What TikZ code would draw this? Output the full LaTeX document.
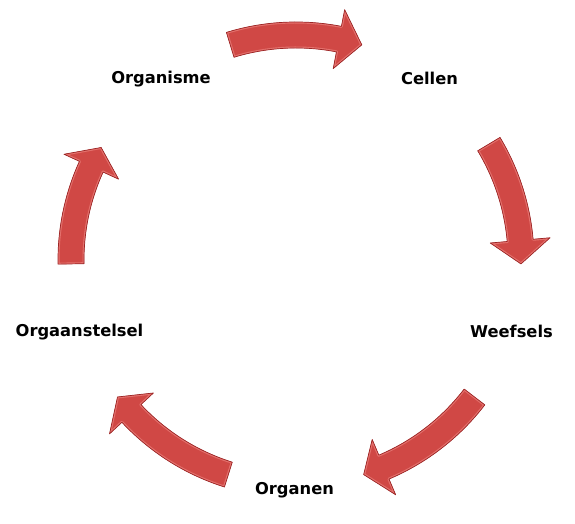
\documentclass[tikz,border=0pt]{standalone}
\usepackage{fontspec}
\setmainfont{DejaVu Sans}
\definecolor{pijlrood}{RGB}{208,72,69}
\definecolor{pijlrand}{RGB}{155,38,38}
\definecolor{pijllicht}{RGB}{228,112,108}
\tikzset{
  fase/.style={font=\bfseries\fontsize{16.3}{19}\selectfont, inner sep=0pt, anchor=base},
  pijl/.style={fill=pijlrood},
  rand/.style={draw=pijlrand, line width=0.7pt, line join=round},
  glans/.style={draw=pijllicht, line width=3pt, line join=round},
  schaduw/.style={fill=black, opacity=0.12}
}
% gebogen pijl langs de kring rond (M): staart, voet van de punt, punt
\newcommand{\kringpad}[3]{%
  ([shift={(#1:238)}]M) arc[start angle=#1, end angle=#2, radius=238]
    -- ([shift={(#2:255)}]M) -- ([shift={(#3:225)}]M) -- ([shift={(#2:195)}]M)
    -- ([shift={(#2:212)}]M) arc[start angle=#2, end angle=#1, radius=212] -- cycle}
\begin{document}
\begin{tikzpicture}[x=1pt,y=1pt]
  \useasboundingbox (0,0) rectangle (575,524);
  \coordinate (M) at (296,264);

  % fasen van de kring
  \node[fase] (organisme)     at (161,440)   {Organisme};
  \node[fase] (cellen)        at (429.5,439) {Cellen};
  \node[fase] (weefsels)      at (511.5,186) {Weefsels};
  \node[fase] (organen)       at (294.5,29)  {Organen};
  \node[fase] (orgaanstelsel) at (79.5,187)  {Orgaanstelsel};

  % pijlen met schaduw en glans
  \foreach \ha/\hb/\ht in {107/79/73, 31/5/-1, -37.5/-67/-72.5, -107.5/-137/-142.5, 181/155.5/150} {
    \path[schaduw, shift={(1.5,-3)}] \kringpad{\ha}{\hb}{\ht};
    \path[pijl] \kringpad{\ha}{\hb}{\ht};
    \begin{scope}
      \clip \kringpad{\ha}{\hb}{\ht};
      \path[glans] \kringpad{\ha}{\hb}{\ht};
    \end{scope}
    \path[rand] \kringpad{\ha}{\hb}{\ht};
  }
\end{tikzpicture}
\end{document}
